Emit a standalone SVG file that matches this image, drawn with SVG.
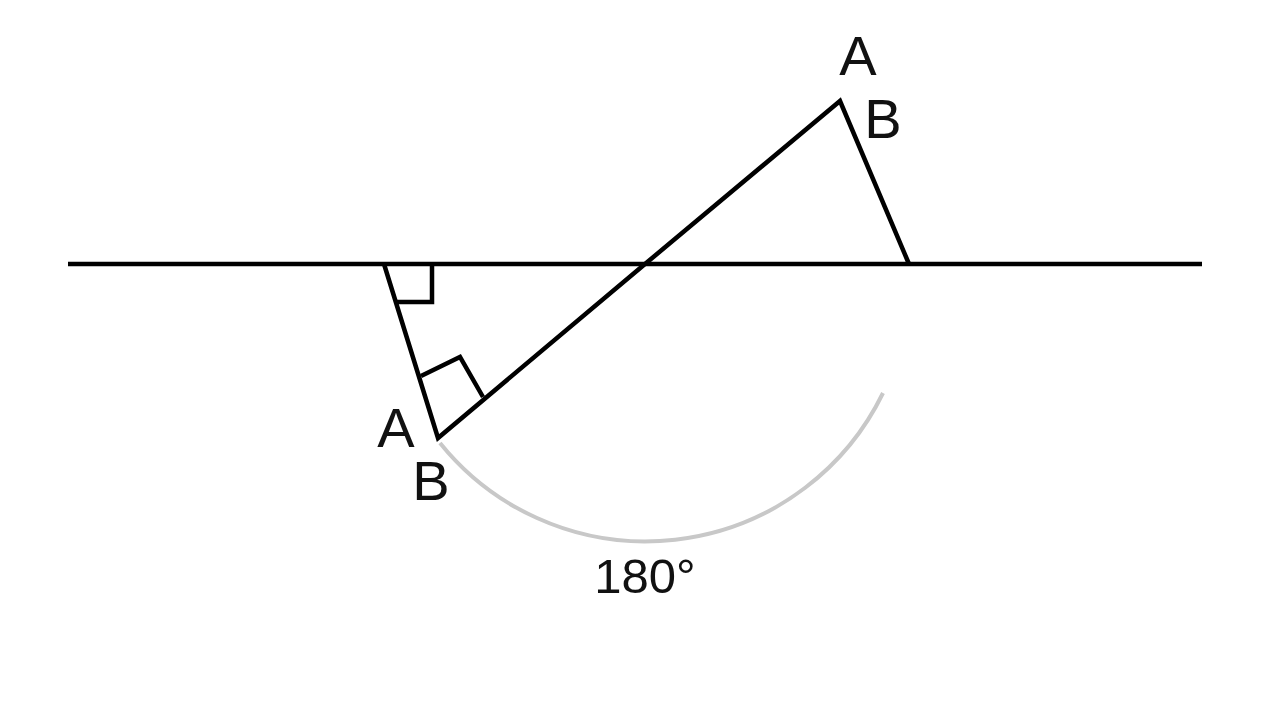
<svg xmlns="http://www.w3.org/2000/svg" width="1280" height="720" viewBox="0 0 1280 720">
<style>
.ln{fill:none;stroke:#000;stroke-width:4.5;stroke-linejoin:miter;stroke-linecap:butt}
.arc{fill:none;stroke:#c8c8c8;stroke-width:4}
.t{font-family:"Liberation Sans",Arial,sans-serif;fill:#111}
</style>
<rect width="1280" height="720" fill="#fff"/>
<g id="baseline"><line class="ln" x1="68" y1="264" x2="1202" y2="264"/></g>
<g id="arc180"><path class="arc" d="M440,443 A264,264 0 0 0 883,393"/></g>
<g id="triangle-left"><polyline class="ln" points="384,264 438,438 645,264"/></g>
<g id="triangle-right"><polyline class="ln" points="645,264 840,101 909,264"/></g>
<g id="right-angles">
<polyline class="ln" points="432,264 432,302 396,302"/>
<polyline class="ln" points="421,376 460,357 483,397"/>
</g>
<g id="labels">
<text class="t" x="858" y="75" font-size="56" text-anchor="middle">A</text>
<text class="t" x="883" y="138" font-size="56" text-anchor="middle">B</text>
<text class="t" x="396" y="447" font-size="56" text-anchor="middle">A</text>
<text class="t" x="431" y="500" font-size="56" text-anchor="middle">B</text>
<text class="t" x="645" y="593" font-size="49" text-anchor="middle">180°</text>
</g>
</svg>
